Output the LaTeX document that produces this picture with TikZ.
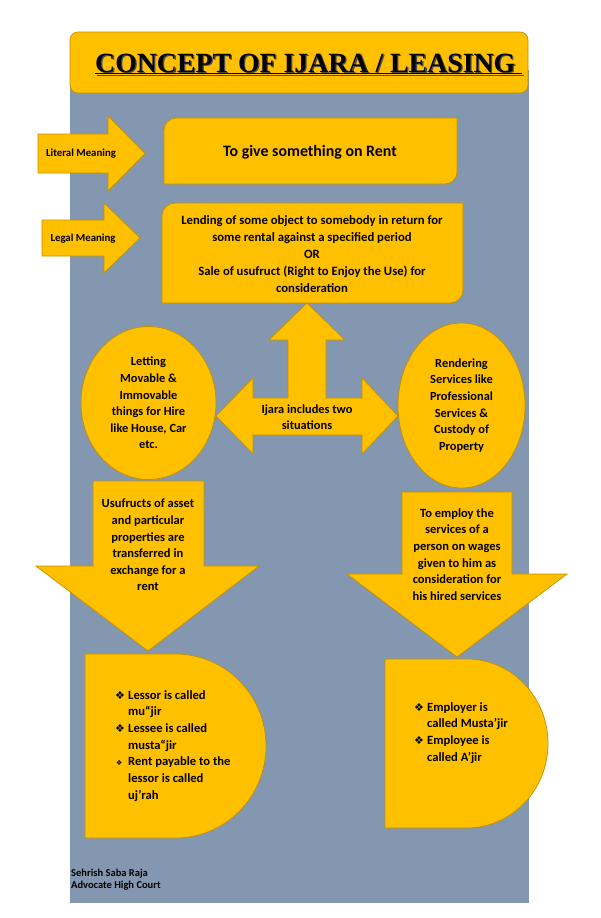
\documentclass[tikz,border=0pt]{standalone}
\usepackage{fontspec}
\setmainfont{Carlito}
\newfontfamily\titlefont{Liberation Serif}
\newfontfamily\symfont{DejaVu Sans}
\usetikzlibrary{shapes.geometric}
\definecolor{ijgold}{HTML}{FFC000}
\definecolor{ijedge}{HTML}{C09000}
\definecolor{ijslate}{HTML}{8497B0}
\newcommand{\blt}{\makebox[13pt][l]{\symfont\fontsize{11}{11}\selectfont ❖}}
\newcommand{\bltlight}{\makebox[13pt][l]{\hspace*{1pt}\symfont\fontsize{7}{7}\selectfont ❖}}
\newcommand{\hang}{\hspace*{13pt}}

\begin{document}
\begin{tikzpicture}[
  x=1pt, y=-1pt,
  font=\bfseries\fontsize{12.5}{16.6}\selectfont,
  gold/.style={fill=ijgold, draw=ijedge, line width=0.7pt},
  txt/.style={align=center, inner sep=0pt},
  oval/.style={ellipse, gold, inner sep=0pt, align=center, font=\bfseries\fontsize{12.4}{16.6}\selectfont},
  small/.style={font=\bfseries\fontsize{10.8}{12}\selectfont},
  terms/.style={anchor=north west, align=left, inner sep=0pt, font=\bfseries\fontsize{12.6}{16.7}\selectfont}
]
\useasboundingbox (0,0) rectangle (600,918);

% background panel and header
\fill[ijslate] (70,70) rectangle (529,903);
\path[gold, rounded corners=8pt] (70,32) rectangle (528,93);
\node[anchor=base west, inner sep=0pt, text=gray!60!black,
  font=\titlefont\bfseries\fontsize{27.8}{28}\selectfont] (titleshadow) at (96.3,73.3)
  {\underline{CONCEPT OF IJARA / LEASING\ }};
\node[anchor=base west, inner sep=0pt,
  font=\titlefont\bfseries\fontsize{27.8}{28}\selectfont] (title) at (95,72)
  {\underline{CONCEPT OF IJARA / LEASING\ }};

% meaning arrows
\path[gold] (38,134) -- (108,134) -- (108,116) -- (145,153.5) -- (108,191) -- (108,173) -- (38,173) -- cycle;
\node[txt, small] (literal) at (81,154) {Literal Meaning};
\path[gold] (42,220) -- (104,220) -- (104,203) -- (140,238) -- (104,273) -- (104,256) -- (42,256) -- cycle;
\node[txt, small] (legal) at (83,239) {Legal Meaning};

% meaning boxes
\path[gold] (164,184) -- (164,130) arc[start angle=180, end angle=90, radius=12pt]
  -- (457,118) -- (457,172) arc[start angle=0, end angle=-90, radius=12pt] -- cycle;
\node[txt, font=\bfseries\fontsize{15.9}{18}\selectfont] (rent) at (310,152) {To give something on Rent};
\path[gold] (162,303) -- (162,216) arc[start angle=180, end angle=90, radius=13pt]
  -- (463,203) -- (463,290) arc[start angle=0, end angle=-90, radius=13pt] -- cycle;
\node[txt, font=\bfseries\fontsize{12.7}{17}\selectfont] (lending) at (312,254)
  {Lending of some object to somebody in return for\\some rental against a specified period\\OR\\Sale of usufruct (Right to Enjoy the Use) for\\consideration};

% three-way arrow
\path[gold] (307,303) -- (345,340) -- (326,340) -- (326,398) -- (362,398) -- (362,378)
  -- (398,416) -- (362,454) -- (362,435) -- (253,435) -- (253,454) -- (216,416)
  -- (253,378) -- (253,398) -- (288,398) -- (288,340) -- (269,340) -- cycle;
\node[txt, font=\bfseries\fontsize{12.4}{16.6}\selectfont] (includes) at (307,417) {Ijara includes two\\situations};

% two situations
\node[oval, minimum width=135pt, minimum height=153pt] (movable) at (148.5,403)
  {Letting\\Movable \&\\Immovable\\things for Hire\\like House, Car\\etc.};
\node[oval, minimum width=127pt, minimum height=165pt] (services) at (461.5,405.5)
  {Rendering\\Services like\\Professional\\Services \&\\Custody of\\Property};

% down arrows
\path[gold] (93,481) -- (204,481) -- (204,566) -- (259,566) -- (148,651) -- (36,566) -- (93,566) -- cycle;
\node[txt] (usufructs) at (148,545)
  {Usufructs of asset\\and particular\\properties are\\transferred in\\exchange for a\\rent};
\path[gold] (402,492) -- (512,492) -- (512,574) -- (567,574) -- (457,657) -- (347,574) -- (402,574) -- cycle;
\node[txt] (employ) at (457,554.5)
  {To employ the\\services of a\\person on wages\\given to him as\\consideration for\\his hired services};

% terms
\path[gold] (85,838) -- (85,654) -- (175.5,654)
  arc[start angle=90, end angle=-90, x radius=90.5pt, y radius=92pt] -- cycle;
\node[terms] (lessor) at (115,690)
  {\blt Lessor is called\\\hang mu“jir\\\blt Lessee is called\\\hang musta“jir\\\bltlight Rent payable to the\\\hang lessor is called\\\hang uj’rah};
\path[gold] (385,828) -- (385,659) -- (466.5,659)
  arc[start angle=90, end angle=-90, x radius=81.5pt, y radius=84.5pt] -- cycle;
\node[terms] (employer) at (414,702)
  {\blt Employer is\\\hang called Musta’jir\\\blt Employee is\\\hang called A’jir};

% footer
\node[anchor=north west, align=left, inner sep=0pt, font=\bfseries\fontsize{10.5}{11.5}\selectfont]
  (author) at (71,869) {Sehrish Saba Raja\\Advocate High Court};
\end{tikzpicture}
\end{document}
